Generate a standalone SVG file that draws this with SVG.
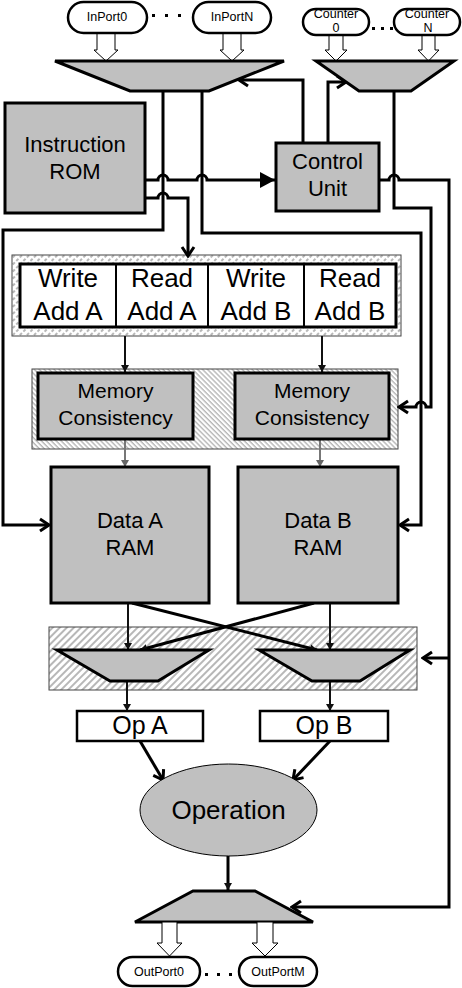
<svg xmlns="http://www.w3.org/2000/svg" width="462" height="988" viewBox="0 0 462 988">
<style>
text{font-family:"Liberation Sans",Arial,sans-serif;fill:#000;text-anchor:middle}
.box{fill:#c0c0c0;stroke:#000;stroke-width:3}
.trap{fill:#c0c0c0;stroke:#000;stroke-width:3;stroke-linejoin:miter}
.pill{fill:#fff;stroke:#000;stroke-width:2.5}
.hol{fill:#fff;stroke:#000;stroke-width:1}
.w{fill:none;stroke:#000;stroke-width:3}
.t{fill:none;stroke:#111;stroke-width:2}
.g{fill:none;stroke:#777;stroke-width:2}
.region{stroke:#444;stroke-width:1}
.dot{fill:#000}
</style>
<defs>
<pattern id="hReg" width="5" height="5" patternUnits="userSpaceOnUse" patternTransform="rotate(45)">
<rect width="5" height="5" fill="#fff"/><line x1="1" y1="0" x2="1" y2="3" stroke="#888" stroke-width="1.2"/></pattern>
<pattern id="hMem" width="3.5" height="3.5" patternUnits="userSpaceOnUse" patternTransform="rotate(-45)">
<rect width="3.5" height="3.5" fill="#fff"/><line x1="1" y1="0" x2="1" y2="3.5" stroke="#999" stroke-width="1"/></pattern>
<pattern id="hMux" width="5" height="5" patternUnits="userSpaceOnUse" patternTransform="rotate(45)">
<rect width="5" height="5" fill="#fff"/><line x1="1" y1="0" x2="1" y2="5" stroke="#999" stroke-width="1.4"/></pattern>
<marker id="open" viewBox="-12 -8 14 16" markerWidth="14" markerHeight="16" refX="0" refY="0" orient="auto" markerUnits="userSpaceOnUse">
<path d="M-9,-6 L0,0 L-9,6" fill="none" stroke="#000" stroke-width="3"/></marker>
<marker id="small" viewBox="-9 -6 10 12" markerWidth="10" markerHeight="12" refX="0" refY="0" orient="auto" markerUnits="userSpaceOnUse">
<path d="M-7,-4 L0,0 L-7,4 Z" fill="#111"/></marker>
<marker id="smallg" viewBox="-9 -6 10 12" markerWidth="10" markerHeight="12" refX="0" refY="0" orient="auto" markerUnits="userSpaceOnUse">
<path d="M-7,-4 L0,0 L-7,4 Z" fill="#666"/></marker>
<marker id="tri" viewBox="-16 -10 17 20" markerWidth="17" markerHeight="20" refX="0" refY="0" orient="auto" markerUnits="userSpaceOnUse">
<path d="M-15,-8 L0,0 L-15,8 Z" fill="#000"/></marker>
</defs>

<!-- regions -->
<rect id="regRegion" class="region" x="12" y="255" width="389" height="81" fill="url(#hReg)"/>
<rect id="memRegion" class="region" x="32" y="369" width="366" height="80" fill="url(#hMem)"/>
<rect id="muxRegion" class="region" x="49" y="627" width="368" height="63" fill="url(#hMux)"/>

<g id="connectors">
<path class="w" d="M163,91 V230 H3 V525 H49" marker-end="url(#open)"/>
<path class="w" d="M202,91 V233 H421 V525 H400" marker-end="url(#open)"/>
<path class="w" d="M145,180 H158 A5,5 0 0 1 168,180 H197 A5,5 0 0 1 207,180 H275" marker-end="url(#tri)"/>
<path class="w" d="M145,198 H158 A5,5 0 0 1 168,198 H188 V256" marker-end="url(#open)"/>
<path class="w" d="M303,143 V80 H239" marker-end="url(#open)"/>
<path class="w" d="M328,143 V82 H346" marker-end="url(#open)"/>
<path class="w" d="M379,180 H389 A5,5 0 0 1 399,180 H449 V907 H292" marker-end="url(#open)"/>
<path class="w" d="M449,658 H423" marker-end="url(#open)"/>
<path class="w" d="M394,91 V208 H431 V407 H426 A5,5 0 0 0 416,407 H399" marker-end="url(#open)"/>
<path class="t" d="M125,336 V372" marker-end="url(#small)"/>
<path class="t" d="M322,336 V372" marker-end="url(#small)"/>
<path class="g" d="M125,439 V467" marker-end="url(#smallg)"/>
<path class="g" d="M320,439 V467" marker-end="url(#smallg)"/>
<path class="t" d="M128,603 V650" marker-end="url(#small)"/>
<path class="w" d="M132,603 L317,650" marker-end="url(#small)"/>
<path class="t" d="M330,603 V650" marker-end="url(#small)"/>
<path class="w" d="M314,603 L140,650" marker-end="url(#small)"/>
<path class="t" d="M127,681 V711" marker-end="url(#small)"/>
<path class="t" d="M330,681 V711" marker-end="url(#small)"/>
<path class="w" d="M140,741 L163,780" marker-end="url(#open)"/>
<path class="w" d="M330,741 L293,780" marker-end="url(#open)"/>
<path class="w" d="M228,856 V890" marker-end="url(#small)"/>
</g>

<g id="inArrows">
<polygon class="hol" points="97,33 115,33 115,50 118,50 106,61 94,50 97,50"/>
<polygon class="hol" points="223,33 241,33 241,50 244,50 232,61 220,50 223,50"/>
<polygon class="hol" points="329,35 343,35 343,50 347,50 336,61 325,50 329,50"/>
<polygon class="hol" points="422,35 435,35 435,50 439,50 428.5,61 418,50 422,50"/>
</g>

<g id="inPort0"><rect class="pill" x="68" y="2" width="79" height="31" rx="15.5"/><text x="107" y="21" font-size="12.5">InPort0</text></g>
<g id="inPortN"><rect class="pill" x="193" y="2" width="78" height="31" rx="15.5"/><text x="232" y="21" font-size="12.5">InPortN</text></g>
<g id="inDots"><rect class="dot" x="152" y="14" width="3" height="3"/><rect class="dot" x="165" y="14" width="3" height="3"/><rect class="dot" x="178" y="14" width="3" height="3"/></g>
<g id="counter0"><rect class="pill" x="303" y="9" width="66" height="26" rx="13"/><text x="336" y="18" font-size="12.5">Counter</text><text x="336" y="32" font-size="12.5">0</text></g>
<g id="counterN"><rect class="pill" x="394" y="9" width="66" height="26" rx="13"/><text x="427" y="18" font-size="12.5">Counter</text><text x="428" y="32" font-size="12.5">N</text></g>
<g id="cntDots"><rect class="dot" x="372" y="27" width="3" height="3"/><rect class="dot" x="381" y="27" width="3" height="3"/><rect class="dot" x="390" y="27" width="3" height="3"/></g>

<g id="inputMux"><polygon class="trap" points="55,61 284,61 209,91 130,91"/></g>
<g id="counterMux"><polygon class="trap" points="316,61 454,61 411,91 359,91"/></g>

<g id="instructionROM"><rect class="box" x="5" y="103" width="140" height="110"/>
<text x="75" y="152" font-size="22">Instruction</text><text x="75" y="179" font-size="22">ROM</text></g>

<g id="controlUnit"><rect class="box" x="276" y="143" width="103" height="68"/>
<text x="327.5" y="169" font-size="22">Control</text><text x="327.5" y="196" font-size="22">Unit</text></g>

<g id="addrRegister">
<rect x="20" y="264" width="376" height="63" fill="#fff" stroke="#000" stroke-width="3"/>
<line x1="116" y1="264" x2="116" y2="327" stroke="#000" stroke-width="2"/>
<line x1="208" y1="264" x2="208" y2="327" stroke="#000" stroke-width="2"/>
<line x1="304" y1="264" x2="304" y2="327" stroke="#000" stroke-width="2"/>
<text x="68" y="287" font-size="26">Write</text><text x="68" y="320" font-size="26">Add A</text>
<text x="162" y="287" font-size="26">Read</text><text x="162" y="320" font-size="26">Add A</text>
<text x="256" y="287" font-size="26">Write</text><text x="256" y="320" font-size="26">Add B</text>
<text x="350" y="287" font-size="26">Read</text><text x="350" y="320" font-size="26">Add B</text>
</g>

<g id="memConsA"><rect class="box" x="38" y="373" width="155" height="66"/>
<text x="115.5" y="398" font-size="21">Memory</text><text x="115.5" y="425" font-size="21">Consistency</text></g>
<g id="memConsB"><rect class="box" x="235" y="373" width="154" height="66"/>
<text x="312" y="398" font-size="21">Memory</text><text x="312" y="425" font-size="21">Consistency</text></g>

<g id="dataARAM"><rect class="box" x="51" y="467" width="158" height="136" stroke-width="2.5"/>
<text x="130" y="528" font-size="22">Data A</text><text x="130" y="555" font-size="22">RAM</text></g>
<g id="dataBRAM"><rect class="box" x="238" y="467" width="160" height="136" stroke-width="2.5"/>
<text x="318" y="528" font-size="22">Data B</text><text x="318" y="555" font-size="22">RAM</text></g>

<g id="muxA"><polygon class="trap" points="57,650 209,650 158,681 110,681"/></g>
<g id="muxB"><polygon class="trap" points="259,650 410,650 360,681 312,681"/></g>

<g id="opA"><rect x="77" y="711" width="126" height="30" fill="#fff" stroke="#000" stroke-width="2.5"/><text x="140" y="734" font-size="25">Op A</text></g>
<g id="opB"><rect x="260" y="711" width="128" height="30" fill="#fff" stroke="#000" stroke-width="2.5"/><text x="324" y="734" font-size="25">Op B</text></g>

<g id="operation"><ellipse cx="228.5" cy="810" rx="88.5" ry="46" fill="#c0c0c0" stroke="#000" stroke-width="1"/>
<text x="228.5" y="819" font-size="26">Operation</text></g>

<g id="outputMux"><polygon class="trap" points="193,891 255,891 313,922 135,922"/></g>

<g id="outArrows">
<polygon class="hol" points="162,922 177,922 177,943 182,943 169.5,956 157,943 162,943"/>
<polygon class="hol" points="257,922 273,922 273,943 278,943 265,956 252,943 257,943"/>
</g>

<g id="outPort0"><rect class="pill" x="118" y="957" width="82" height="29" rx="14.5"/><text x="159" y="976" font-size="12.5">OutPort0</text></g>
<g id="outPortM"><rect class="pill" x="239" y="957" width="78" height="29" rx="14.5"/><text x="278" y="976" font-size="12.5">OutPortM</text></g>
<g id="outDots"><rect class="dot" x="205" y="973" width="3" height="3"/><rect class="dot" x="217" y="973" width="3" height="3"/><rect class="dot" x="229" y="973" width="3" height="3"/></g>
</svg>
